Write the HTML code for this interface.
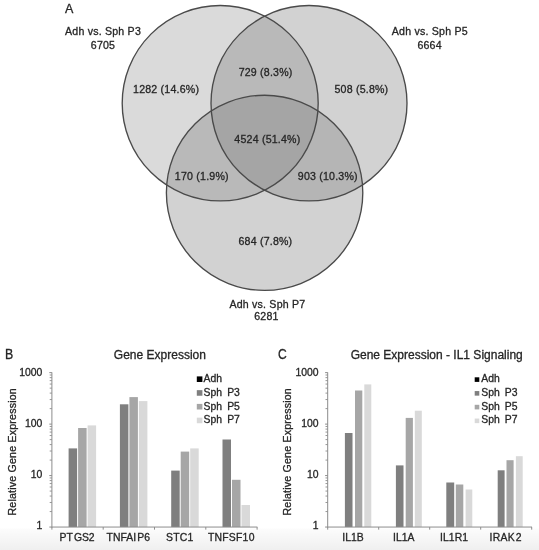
<!DOCTYPE html>
<html lang="en"><head><meta charset="utf-8"><title>Figure</title>
<style>
html,body{margin:0;padding:0;background:#fff;}
body{width:539px;height:550px;overflow:hidden;position:relative;}
svg{position:absolute;left:0;top:0;display:block;filter:blur(0.35px);}
text{font-family:'Liberation Sans', sans-serif;fill:#262626;stroke:#262626;stroke-width:0.3px;}
.v{font-size:10.6px;letter-spacing:0.21px;}
.t{font-size:12px;}
.k{font-size:10.4px;}
.p{font-size:12.5px;}
</style></head><body>
<svg width="539" height="550" viewBox="0 0 539 550">
<defs><linearGradient id="bg" x1="0" y1="0" x2="0" y2="1"><stop offset="0" stop-color="#000" stop-opacity="0.012"/><stop offset="1" stop-color="#000" stop-opacity="0.062"/></linearGradient></defs>
<rect x="0" y="0" width="539" height="550" fill="#fff"/>
<rect x="0" y="528.5" width="539" height="21.5" fill="url(#bg)"/>
<defs>
<clipPath id="c0"><ellipse cx="220.2" cy="103.2" rx="98.0" ry="97.7"/></clipPath>
<clipPath id="c1"><ellipse cx="309.0" cy="103.2" rx="98.0" ry="97.7"/></clipPath>
<clipPath id="c2"><ellipse cx="264.6" cy="192.8" rx="98.2" ry="97.6"/></clipPath>
<clipPath id="c01"><ellipse cx="309.0" cy="103.2" rx="98.0" ry="97.7" clip-path="url(#c0)"/></clipPath>
</defs>
<g id="venn">
<ellipse cx="220.2" cy="103.2" rx="98.0" ry="97.7" fill="#dadada"/>
<ellipse cx="309.0" cy="103.2" rx="98.0" ry="97.7" fill="#d2d2d2"/>
<ellipse cx="264.6" cy="192.8" rx="98.2" ry="97.6" fill="#d2d2d2"/>
<ellipse cx="309.0" cy="103.2" rx="98.0" ry="97.7" fill="#b9b9b9" clip-path="url(#c0)"/>
<ellipse cx="264.6" cy="192.8" rx="98.2" ry="97.6" fill="#b9b9b9" clip-path="url(#c0)"/>
<ellipse cx="264.6" cy="192.8" rx="98.2" ry="97.6" fill="#b5b5b5" clip-path="url(#c1)"/>
<ellipse cx="264.6" cy="192.8" rx="98.2" ry="97.6" fill="#a5a5a5" clip-path="url(#c01)"/>
<ellipse cx="220.2" cy="103.2" rx="98.0" ry="97.7" fill="none" stroke="#4a4a4a" stroke-width="1.35"/>
<ellipse cx="309.0" cy="103.2" rx="98.0" ry="97.7" fill="none" stroke="#4a4a4a" stroke-width="1.35"/>
<ellipse cx="264.6" cy="192.8" rx="98.2" ry="97.6" fill="none" stroke="#4a4a4a" stroke-width="1.35"/>
<text class="p" x="65.0" y="13.0" text-anchor="start">A</text>
<text class="v" x="103.0" y="35.0" text-anchor="middle">Adh vs. Sph P3</text>
<text class="v" x="103.0" y="48.5" text-anchor="middle">6705</text>
<text class="v" x="429.8" y="35.0" text-anchor="middle">Adh vs. Sph P5</text>
<text class="v" x="429.6" y="48.5" text-anchor="middle">6664</text>
<text class="v" x="267.4" y="307.5" text-anchor="middle">Adh vs. Sph P7</text>
<text class="v" x="266.4" y="320.4" text-anchor="middle">6281</text>
<text class="v" x="166.1" y="93.0" text-anchor="middle">1282 (14.6%)</text>
<text class="v" x="265.6" y="76.2" text-anchor="middle">729 (8.3%)</text>
<text class="v" x="361.4" y="92.5" text-anchor="middle">508 (5.8%)</text>
<text class="v" x="267.4" y="143.4" text-anchor="middle">4524 (51.4%)</text>
<text class="v" x="201.8" y="179.6" text-anchor="middle">170 (1.9%)</text>
<text class="v" x="327.8" y="179.5" text-anchor="middle">903 (10.3%)</text>
<text class="v" x="265.4" y="245.0" text-anchor="middle">684 (7.8%)</text>
</g>
<g id="chartB">
<text transform="translate(4.90,358.5) scale(0.860,1)" style="font-size:14.4px">B</text>
<text class="t" x="159.9" y="359.3" text-anchor="middle">Gene Expression</text>
<text class="v" transform="translate(16.3,451.8) rotate(-90)" text-anchor="middle" style="letter-spacing:0.21px">Relative Gene Expression</text>
<rect x="68.60" y="448.40" width="8.50" height="78.65" fill="#7f7f7f"/>
<rect x="78.10" y="428.00" width="8.50" height="99.05" fill="#a6a6a6"/>
<rect x="87.60" y="425.40" width="8.50" height="101.65" fill="#d9d9d9"/>
<rect x="119.90" y="404.30" width="8.50" height="122.75" fill="#7f7f7f"/>
<rect x="129.40" y="397.10" width="8.50" height="129.95" fill="#a6a6a6"/>
<rect x="138.90" y="401.10" width="8.50" height="125.95" fill="#d9d9d9"/>
<rect x="171.20" y="470.60" width="8.50" height="56.45" fill="#7f7f7f"/>
<rect x="180.70" y="451.60" width="8.50" height="75.45" fill="#a6a6a6"/>
<rect x="190.20" y="448.40" width="8.50" height="78.65" fill="#d9d9d9"/>
<rect x="222.50" y="439.50" width="8.50" height="87.55" fill="#7f7f7f"/>
<rect x="232.00" y="479.80" width="8.50" height="47.25" fill="#a6a6a6"/>
<rect x="241.50" y="505.00" width="8.50" height="22.05" fill="#d9d9d9"/>
<g stroke="#8c8c8c" stroke-width="1" fill="none">
<line x1="51.90" y1="372.34" x2="51.90" y2="527.55"/>
<line x1="49.30" y1="527.05" x2="257.40" y2="527.05"/>
<line x1="51.90" y1="527.05" x2="51.90" y2="529.65"/>
<line x1="103.20" y1="527.05" x2="103.20" y2="529.65"/>
<line x1="154.50" y1="527.05" x2="154.50" y2="529.65"/>
<line x1="205.80" y1="527.05" x2="205.80" y2="529.65"/>
<line x1="257.10" y1="527.05" x2="257.10" y2="529.65"/>
<line x1="49.30" y1="475.58" x2="51.90" y2="475.58"/>
<line x1="49.30" y1="424.11" x2="51.90" y2="424.11"/>
<line x1="49.30" y1="372.64" x2="51.90" y2="372.64"/>
</g>
<g stroke="#8c8c8c" stroke-width="0.95" stroke-opacity="0.95" fill="none">
<line x1="49.70" y1="511.56" x2="51.90" y2="511.56"/>
<line x1="49.70" y1="502.49" x2="51.90" y2="502.49"/>
<line x1="49.70" y1="496.06" x2="51.90" y2="496.06"/>
<line x1="49.70" y1="491.07" x2="51.90" y2="491.07"/>
<line x1="49.70" y1="487.00" x2="51.90" y2="487.00"/>
<line x1="49.70" y1="483.55" x2="51.90" y2="483.55"/>
<line x1="49.70" y1="480.57" x2="51.90" y2="480.57"/>
<line x1="49.70" y1="477.94" x2="51.90" y2="477.94"/>
<line x1="49.70" y1="460.09" x2="51.90" y2="460.09"/>
<line x1="49.70" y1="451.02" x2="51.90" y2="451.02"/>
<line x1="49.70" y1="444.59" x2="51.90" y2="444.59"/>
<line x1="49.70" y1="439.60" x2="51.90" y2="439.60"/>
<line x1="49.70" y1="435.53" x2="51.90" y2="435.53"/>
<line x1="49.70" y1="432.08" x2="51.90" y2="432.08"/>
<line x1="49.70" y1="429.10" x2="51.90" y2="429.10"/>
<line x1="49.70" y1="426.47" x2="51.90" y2="426.47"/>
<line x1="49.70" y1="408.62" x2="51.90" y2="408.62"/>
<line x1="49.70" y1="399.55" x2="51.90" y2="399.55"/>
<line x1="49.70" y1="393.12" x2="51.90" y2="393.12"/>
<line x1="49.70" y1="388.13" x2="51.90" y2="388.13"/>
<line x1="49.70" y1="384.06" x2="51.90" y2="384.06"/>
<line x1="49.70" y1="380.61" x2="51.90" y2="380.61"/>
<line x1="49.70" y1="377.63" x2="51.90" y2="377.63"/>
<line x1="49.70" y1="375.00" x2="51.90" y2="375.00"/>
</g>
<text class="k" x="42.3" y="529.2" text-anchor="end">1</text>
<text class="k" x="42.3" y="478.0" text-anchor="end">10</text>
<text class="k" x="42.3" y="426.8" text-anchor="end">100</text>
<text class="k" x="42.3" y="375.6" text-anchor="end">1000</text>
<text class="k" x="77.0" y="541.0" text-anchor="middle" style="letter-spacing:-0.1px">PT<tspan dx="1.3">GS2</tspan></text>
<text class="k" x="128.3" y="541.0" text-anchor="middle" style="letter-spacing:0.05px">TNFAI<tspan dx="0.9">P6</tspan></text>
<text class="k" x="179.8" y="541.0" text-anchor="middle" style="letter-spacing:0.3px">STC1</text>
<text class="k" x="231.3" y="541.0" text-anchor="middle" style="letter-spacing:0.25px">TNFSF10</text>
<rect x="196.80" y="376.40" width="5.60" height="5.60" fill="#000000"/>
<text class="k" x="203.6" y="382.1" text-anchor="start" style="word-spacing:2.2px">Adh</text>
<rect x="196.80" y="390.15" width="5.60" height="5.60" fill="#7f7f7f"/>
<text class="k" x="203.6" y="395.9" text-anchor="start" style="word-spacing:2.2px">Sph P3</text>
<rect x="196.80" y="403.90" width="5.60" height="5.60" fill="#a6a6a6"/>
<text class="k" x="203.6" y="409.6" text-anchor="start" style="word-spacing:2.2px">Sph P5</text>
<rect x="196.80" y="417.65" width="5.60" height="5.60" fill="#d9d9d9"/>
<text class="k" x="203.6" y="423.4" text-anchor="start" style="word-spacing:2.2px">Sph P7</text>
</g>
<g id="chartC">
<text transform="translate(277.90,358.5) scale(0.840,1)" style="font-size:14.4px">C</text>
<text class="t" x="436.7" y="359.3" text-anchor="middle">Gene Expression - IL1 Signaling</text>
<text class="v" transform="translate(290.6,451.8) rotate(-90)" text-anchor="middle" style="letter-spacing:0.21px">Relative Gene Expression</text>
<rect x="344.90" y="433.00" width="7.60" height="94.05" fill="#7f7f7f"/>
<rect x="355.00" y="390.50" width="7.30" height="136.55" fill="#a6a6a6"/>
<rect x="364.30" y="384.40" width="7.00" height="142.65" fill="#d9d9d9"/>
<rect x="395.90" y="465.40" width="7.60" height="61.65" fill="#7f7f7f"/>
<rect x="405.70" y="417.90" width="7.20" height="109.15" fill="#a6a6a6"/>
<rect x="414.80" y="410.70" width="7.00" height="116.35" fill="#d9d9d9"/>
<rect x="446.30" y="482.50" width="7.90" height="44.55" fill="#7f7f7f"/>
<rect x="455.80" y="484.50" width="7.50" height="42.55" fill="#a6a6a6"/>
<rect x="465.60" y="489.50" width="6.70" height="37.55" fill="#d9d9d9"/>
<rect x="497.70" y="470.30" width="6.90" height="56.75" fill="#7f7f7f"/>
<rect x="506.50" y="460.20" width="7.10" height="66.85" fill="#a6a6a6"/>
<rect x="515.90" y="456.20" width="6.80" height="70.85" fill="#d9d9d9"/>
<g stroke="#8c8c8c" stroke-width="1" fill="none">
<line x1="327.70" y1="372.34" x2="327.70" y2="527.55"/>
<line x1="325.10" y1="527.05" x2="532.00" y2="527.05"/>
<line x1="327.70" y1="527.05" x2="327.70" y2="529.65"/>
<line x1="378.70" y1="527.05" x2="378.70" y2="529.65"/>
<line x1="429.70" y1="527.05" x2="429.70" y2="529.65"/>
<line x1="480.70" y1="527.05" x2="480.70" y2="529.65"/>
<line x1="531.70" y1="527.05" x2="531.70" y2="529.65"/>
<line x1="325.10" y1="475.58" x2="327.70" y2="475.58"/>
<line x1="325.10" y1="424.11" x2="327.70" y2="424.11"/>
<line x1="325.10" y1="372.64" x2="327.70" y2="372.64"/>
</g>
<g stroke="#8c8c8c" stroke-width="0.95" stroke-opacity="0.95" fill="none">
<line x1="325.50" y1="511.56" x2="327.70" y2="511.56"/>
<line x1="325.50" y1="502.49" x2="327.70" y2="502.49"/>
<line x1="325.50" y1="496.06" x2="327.70" y2="496.06"/>
<line x1="325.50" y1="491.07" x2="327.70" y2="491.07"/>
<line x1="325.50" y1="487.00" x2="327.70" y2="487.00"/>
<line x1="325.50" y1="483.55" x2="327.70" y2="483.55"/>
<line x1="325.50" y1="480.57" x2="327.70" y2="480.57"/>
<line x1="325.50" y1="477.94" x2="327.70" y2="477.94"/>
<line x1="325.50" y1="460.09" x2="327.70" y2="460.09"/>
<line x1="325.50" y1="451.02" x2="327.70" y2="451.02"/>
<line x1="325.50" y1="444.59" x2="327.70" y2="444.59"/>
<line x1="325.50" y1="439.60" x2="327.70" y2="439.60"/>
<line x1="325.50" y1="435.53" x2="327.70" y2="435.53"/>
<line x1="325.50" y1="432.08" x2="327.70" y2="432.08"/>
<line x1="325.50" y1="429.10" x2="327.70" y2="429.10"/>
<line x1="325.50" y1="426.47" x2="327.70" y2="426.47"/>
<line x1="325.50" y1="408.62" x2="327.70" y2="408.62"/>
<line x1="325.50" y1="399.55" x2="327.70" y2="399.55"/>
<line x1="325.50" y1="393.12" x2="327.70" y2="393.12"/>
<line x1="325.50" y1="388.13" x2="327.70" y2="388.13"/>
<line x1="325.50" y1="384.06" x2="327.70" y2="384.06"/>
<line x1="325.50" y1="380.61" x2="327.70" y2="380.61"/>
<line x1="325.50" y1="377.63" x2="327.70" y2="377.63"/>
<line x1="325.50" y1="375.00" x2="327.70" y2="375.00"/>
</g>
<text class="k" x="318.6" y="529.2" text-anchor="end">1</text>
<text class="k" x="318.6" y="478.0" text-anchor="end">10</text>
<text class="k" x="318.6" y="426.8" text-anchor="end">100</text>
<text class="k" x="318.6" y="375.6" text-anchor="end">1000</text>
<text class="k" x="353.0" y="541.0" text-anchor="middle">IL1B</text>
<text class="k" x="403.7" y="541.0" text-anchor="middle">IL1A</text>
<text class="k" x="454.1" y="541.0" text-anchor="middle" style="letter-spacing:0.05px">IL1R1</text>
<text class="k" x="505.7" y="541.0" text-anchor="middle" style="letter-spacing:0.35px">IRAK<tspan dx="0.8">2</tspan></text>
<rect x="474.70" y="377.30" width="4.60" height="4.60" fill="#000000"/>
<text class="k" x="481.3" y="382.0" text-anchor="start" style="word-spacing:2.2px">Adh</text>
<rect x="474.70" y="391.05" width="4.60" height="4.60" fill="#7f7f7f"/>
<text class="k" x="481.3" y="395.8" text-anchor="start" style="word-spacing:2.2px">Sph P3</text>
<rect x="474.70" y="404.80" width="4.60" height="4.60" fill="#a6a6a6"/>
<text class="k" x="481.3" y="409.5" text-anchor="start" style="word-spacing:2.2px">Sph P5</text>
<rect x="474.70" y="418.55" width="4.60" height="4.60" fill="#d9d9d9"/>
<text class="k" x="481.3" y="423.2" text-anchor="start" style="word-spacing:2.2px">Sph P7</text>
</g>
</svg>
</body></html>
